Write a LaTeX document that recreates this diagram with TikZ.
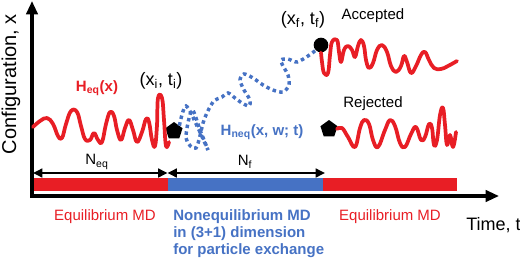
\documentclass[tikz,border=0pt]{standalone}
\usepackage{fontspec}
\setmainfont{Liberation Sans}
\usetikzlibrary{arrows.meta,positioning,shapes.geometric}
\definecolor{eqred}{RGB}{232,30,37}
\definecolor{neqblue}{RGB}{70,114,196}
\begin{document}
\begin{tikzpicture}[x=0.75pt,y=-0.75pt, every node/.style={font=\fontsize{11.25}{13}\selectfont,inner sep=0pt},
 axis/.style={line width=2.3pt,{Triangle[length=10pt,width=8.5pt]}-{Triangle[length=10pt,width=8.5pt]}},
 span/.style={line width=1.9pt,{Triangle[length=7pt,width=6.5pt]}-{Triangle[length=7pt,width=6.5pt]}},
 eqwave/.style={eqred,line width=2.8pt,line join=round,line cap=round},
 neqwalk/.style={neqblue,line width=2.6pt,dash pattern=on 2.6pt off 2.5pt},
 state/.style={regular polygon,regular polygon sides=5,fill=black,minimum size=13.5pt},
 endpt/.style={circle,fill=black,minimum size=11pt},
 point/.style={font=\fontsize{13.5}{16}\selectfont},
 eqlab/.style={text=eqred},
 neqlab/.style={text=neqblue,font=\fontsize{11.25}{12.75}\selectfont\bfseries,align=left}]
\useasboundingbox (0,0) rectangle (520,261);
% time bar
\fill[eqred](33,178) rectangle (168,191);\fill[neqblue](168,178) rectangle (323,191);\fill[eqred](323,178) rectangle (457,191);
\draw[axis](32,1)--(32,196)--(499,196);
\node[rotate=90,font=\fontsize{15}{18}\selectfont](cfg) at (11,84){Configuration, x};
\node[anchor=west,font=\fontsize{13.5}{16}\selectfont](time) at (466,225){Time, t};
% lengths
\coordinate (s0) at (33,173);\coordinate (s1) at (167.5,173);\coordinate (s2) at (325,173);
\draw[span](s0)--(s1);\draw[span](s1)--(s2);
\node(neq) at (97,162){N\textsubscript{eq}};
\node(nf) at (245,162){N\textsubscript{f}};
\node[eqlab](eq1) at (105,217){Equilibrium MD};
\node[eqlab](eq2) at (390,217){Equilibrium MD};
\node[neqlab,anchor=west](neqmd) at (173,234){Nonequilibrium MD\\in (3+1) dimension\\for particle exchange};
% states
\node[state](xi) at (174,131){};
\node[state](rej) at (329,129){};
\node[endpt](xf) at (321,45){};
\node[point](xilab) at (161,81){(x\textsubscript{i}, t\textsubscript{i})};
\node[point](xflab) at (303,20){(x\textsubscript{f}, t\textsubscript{f})};
\node(acc) at (373,16){Accepted};
\node(rejlab) at (373,104){Rejected};
\node[eqlab,font=\fontsize{11.25}{13}\selectfont\bfseries](heq) at (97,88){H\textsubscript{eq}(x)};
\node[text=neqblue,font=\fontsize{11.25}{13}\selectfont\bfseries](hneq) at (262,132){H\textsubscript{neq}(x, w; t)};
% trajectories
\draw[eqwave] plot[smooth,tension=0.7] coordinates {(33,127) (40,121) (47,118) (53,124) (58,136) (62,138) (66,124) (71,111) (77,112) (81,126) (85,139) (90,140) (94,133) (98,140) (102,142) (106,124) (110,112) (114,116) (117,130) (121,140) (125,128) (129,120) (133,130) (137,142) (142,132) (146,119) (149,122) (152,140) (155,146) (157,125) (158,98) (162,98) (164,120) (166,146) (169,142)};
\draw[neqwalk] plot[smooth,tension=0.5] coordinates {(xi.north east) (186,106) (198,128) (208,150) (200,130) (192,110) (186,138) (196,148) (204,120) (213,102) (222,97) (228,93) (235,98) (242,103) (249,106) (250,100) (244,90) (240,80) (244,74) (253,78) (263,85) (273,90) (283,92) (289,85) (288,75) (283,66) (281,60) (288,59) (297,62) (308,56) (xf.south west)};
\draw[eqwave] plot[smooth,tension=0.7] coordinates {(xf.south) (322,62) (324,73) (328,73) (330,55) (332,42) (337,40) (339,52) (341,62) (344,50) (348,46) (352,50) (355,57) (358,46) (361,40) (364,46) (366,60) (369,68) (373,63) (377,50) (382,45) (387,52) (391,66) (396,72) (401,66) (404,56) (407,62) (411,73) (416,66) (421,55) (425,52) (429,60) (434,68) (441,69) (448,66) (457,61)};
\draw[eqwave] plot[smooth,tension=0.7] coordinates {(rej.east) (342,128) (348,137) (355,147) (360,128) (364,120) (369,124) (373,140) (378,147) (385,130) (390,120) (395,126) (400,143) (405,147) (411,134) (416,127) (421,140) (425,137) (429,124) (432,128) (434,145) (437,140) (440,115) (443,108) (445,125) (447,145) (450,135) (453,147) (456,132)};
\end{tikzpicture}
\end{document}
